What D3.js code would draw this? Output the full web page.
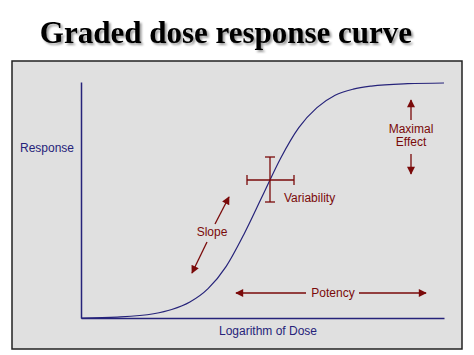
<!DOCTYPE html>
<html>
<head>
<meta charset="utf-8">
<script src="https://cdn.jsdelivr.net/npm/d3@7"></script>
<style>
  body { margin: 0; background: #fff; }
  svg { display: block; }
</style>
</head>
<body>
<div id="chart"></div>
<script>
// Dose response values (log dose 0-10, response 0-100)
const logDose = [0, 1, 2, 2.5, 3, 3.5, 4, 4.5, 5, 5.5, 6, 6.5, 7, 7.5, 8, 9, 10];
const response = [0, 0.4, 1.8, 3.6, 6.8, 12.5, 22, 36, 52, 68, 81, 89.5, 94.8, 97.4, 98.7, 99.7, 100];

const titleText = "Graded dose response curve";
const xLabel = "Logarithm of Dose";
const yLabel = "Response";

const width = 474;
const height = 355;
const panel = {left: 12, top: 61, right: 462, bottom: 349};
const margin = {left: 81, right: 444, top: 83, bottom: 318};

const navy = "#26237a";
const red = "#7a0a0a";

const svg = d3.select("#chart")
  .append("svg")
  .attr("width", width)
  .attr("height", height);

const defs = svg.append("defs");

// arrow head marker
defs.append("marker")
  .attr("id", "head")
  .attr("viewBox", "0 0 10 10")
  .attr("refX", 9).attr("refY", 5)
  .attr("markerWidth", 9).attr("markerHeight", 8)
  .attr("markerUnits", "userSpaceOnUse")
  .attr("orient", "auto")
  .append("path")
  .attr("d", "M0,0 L10,5 L0,10 z")
  .attr("fill", red);

// soft shadow for the title
defs.append("filter")
  .attr("id", "shadow")
  .attr("x", "-5%").attr("y", "-20%")
  .attr("width", "110%").attr("height", "150%")
  .append("feDropShadow")
  .attr("dx", 2).attr("dy", 2)
  .attr("stdDeviation", 0.8)
  .attr("flood-color", "#000")
  .attr("flood-opacity", 0.4);

svg.append("text")
  .attr("x", 226).attr("y", 43)
  .attr("text-anchor", "middle")
  .attr("font-family", "Liberation Serif, serif")
  .attr("font-weight", "bold")
  .attr("font-size", 31)
  .attr("fill", "#000")
  .attr("filter", "url(#shadow)")
  .text(titleText);

// grey panel
svg.append("rect")
  .attr("x", panel.left).attr("y", panel.top)
  .attr("width", panel.right - panel.left)
  .attr("height", panel.bottom - panel.top)
  .attr("fill", "#e0e0e0")
  .attr("stroke", "#222")
  .attr("stroke-width", 1.5);

/*
  Scales and axes
*/
const x = d3.scaleLinear()
  .domain([0, 10])
  .range([margin.left, margin.right]);

const y = d3.scaleLinear()
  .domain([0, 100])
  .range([margin.bottom, margin.top]);

// axes without ticks
svg.append("g")
  .attr("transform", `translate(0,${margin.bottom})`)
  .call(d3.axisBottom(x).ticks(0).tickSize(0).tickSizeOuter(0))
  .call(g => g.select(".domain").attr("stroke", navy).attr("stroke-width", 1.5));

svg.append("g")
  .attr("transform", `translate(${margin.left},0)`)
  .call(d3.axisLeft(y.copy().range([margin.bottom, 82])).ticks(0).tickSize(0).tickSizeOuter(0))
  .call(g => g.select(".domain").attr("stroke", navy).attr("stroke-width", 1.5));

svg.append("text")
  .attr("x", 268).attr("y", 335)
  .attr("text-anchor", "middle")
  .attr("font-family", "Liberation Sans, Arial, sans-serif")
  .attr("font-size", 12)
  .attr("fill", navy)
  .text(xLabel);

svg.append("text")
  .attr("x", 47).attr("y", 152)
  .attr("text-anchor", "middle")
  .attr("font-family", "Liberation Sans, Arial, sans-serif")
  .attr("font-size", 12)
  .attr("fill", navy)
  .text(yLabel);

/*
  Curve
*/
const line = d3.line()
  .x((d, i) => x(logDose[i]))
  .y(d => y(d))
  .curve(d3.curveMonotoneX);

svg.append("path")
  .datum(response)
  .attr("d", line)
  .attr("fill", "none")
  .attr("stroke", navy)
  .attr("stroke-width", 1.2);

/*
  Annotations
*/
const ann = svg.append("g").attr("stroke", red).attr("fill", "none").attr("stroke-width", 1.3);

// variability cross
const cx = 270, cy = 180;
ann.append("line").attr("x1", cx).attr("x2", cx).attr("y1", 157).attr("y2", 202);
ann.append("line").attr("x1", cx - 5).attr("x2", cx + 5).attr("y1", 157).attr("y2", 157);
ann.append("line").attr("x1", cx - 5).attr("x2", cx + 5).attr("y1", 202).attr("y2", 202);
ann.append("line").attr("x1", 247).attr("x2", 294).attr("y1", cy).attr("y2", cy);
ann.append("line").attr("x1", 247).attr("x2", 247).attr("y1", cy - 5).attr("y2", cy + 5);
ann.append("line").attr("x1", 294).attr("x2", 294).attr("y1", cy - 5).attr("y2", cy + 5);

// slope arrows
ann.append("line").attr("x1", 215).attr("y1", 224).attr("x2", 229).attr("y2", 197).attr("marker-end", "url(#head)");
ann.append("line").attr("x1", 207).attr("y1", 242).attr("x2", 192).attr("y2", 273).attr("marker-end", "url(#head)");

// maximal effect arrows
ann.append("line").attr("x1", 411).attr("y1", 120).attr("x2", 411).attr("y2", 100).attr("marker-end", "url(#head)");
ann.append("line").attr("x1", 411).attr("y1", 154).attr("x2", 411).attr("y2", 174).attr("marker-end", "url(#head)");

// potency arrows
ann.append("line").attr("x1", 306).attr("y1", 293).attr("x2", 236).attr("y2", 293).attr("marker-end", "url(#head)");
ann.append("line").attr("x1", 359).attr("y1", 293).attr("x2", 426).attr("y2", 293).attr("marker-end", "url(#head)");

const labels = [
  {t: "Variability", x: 284, y: 202, a: "start"},
  {t: "Slope", x: 212, y: 236, a: "middle"},
  {t: "Maximal", x: 411, y: 133, a: "middle"},
  {t: "Effect", x: 411, y: 146, a: "middle"},
  {t: "Potency", x: 333, y: 297, a: "middle"}
];
svg.selectAll(".ann")
  .data(labels)
  .enter()
  .append("text")
    .attr("class", "ann")
    .attr("x", d => d.x)
    .attr("y", d => d.y)
    .attr("text-anchor", d => d.a)
    .attr("font-family", "Liberation Sans, Arial, sans-serif")
    .attr("font-size", 12)
    .attr("fill", red)
    .text(d => d.t);
</script>
</body>
</html>
